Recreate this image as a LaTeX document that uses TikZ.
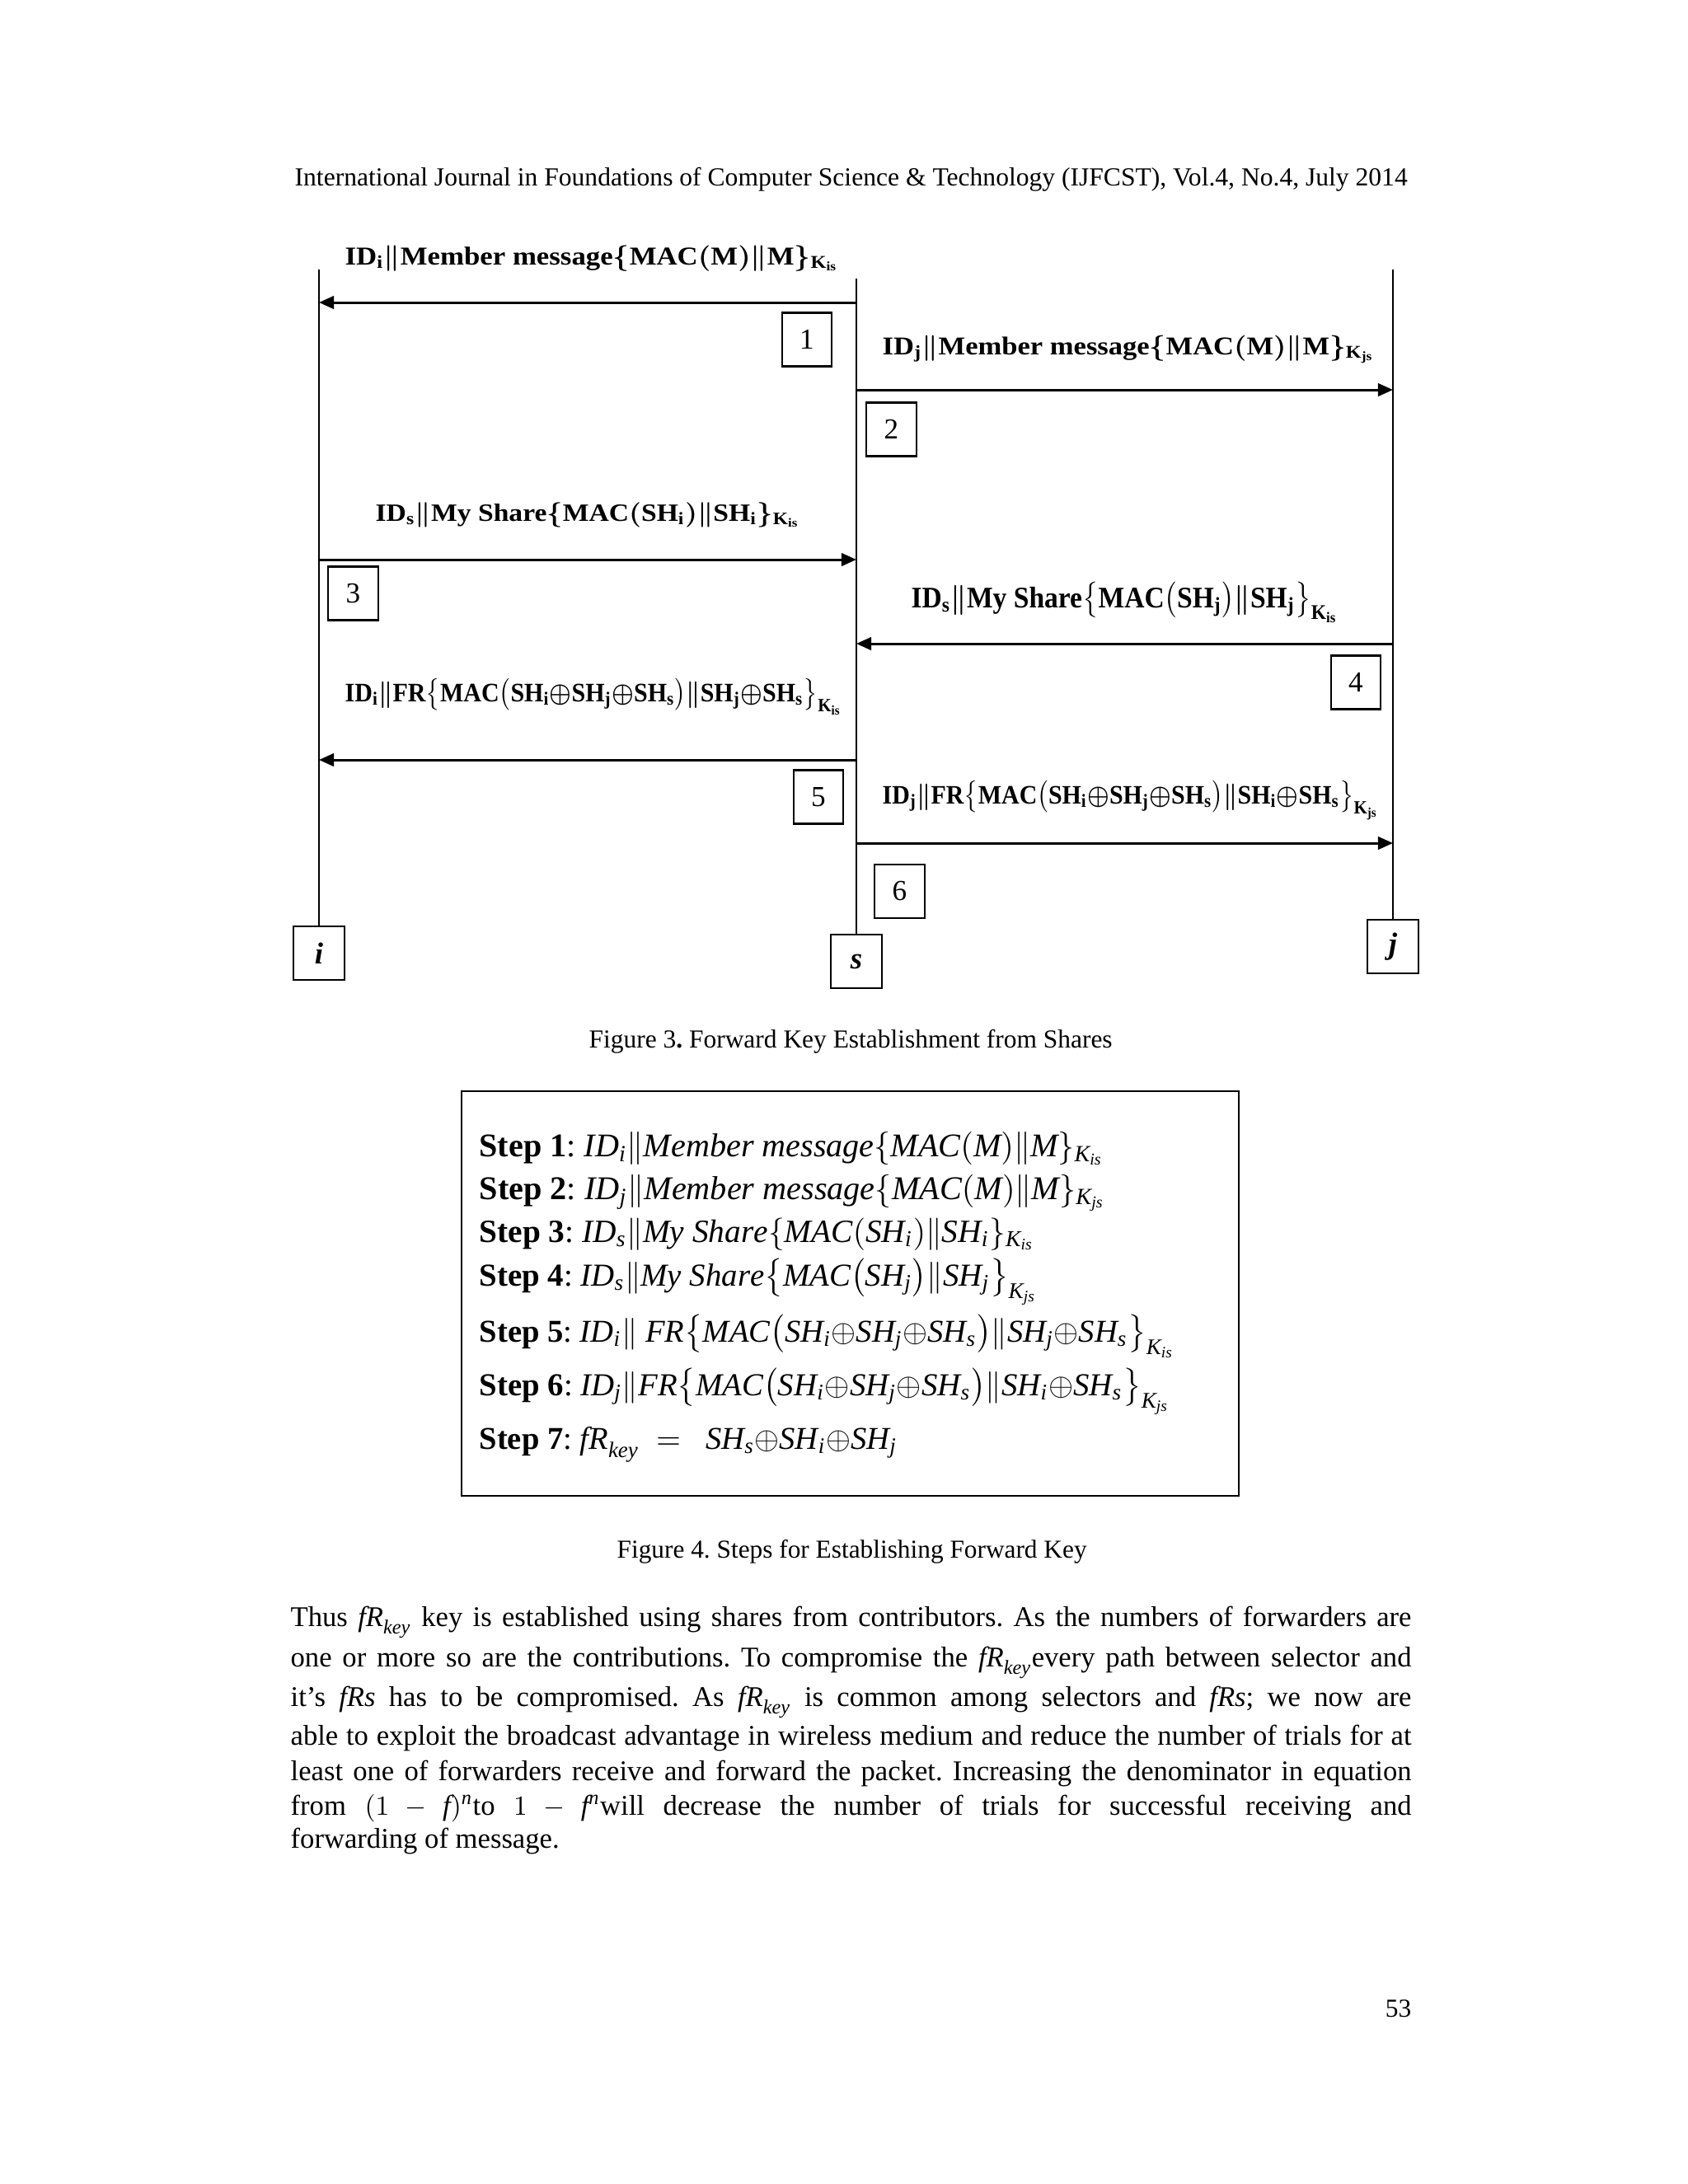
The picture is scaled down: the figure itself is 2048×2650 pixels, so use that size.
\documentclass[tikz,border=0pt]{standalone}
\usepackage{amsmath}
\usepackage{fontspec}
\setmainfont{Liberation Serif}
\usepackage{graphicx}
\usetikzlibrary{arrows.meta}
\frenchspacing
\newlength\U \setlength\U{0.29884pt}
\newcommand\bb[1]{\textbf{#1}}
\newcommand\ii[1]{\mathit{#1}}
\newcommand\xo{{\oplus}}
\newcommand\fitw[2]{\resizebox{#1\U}{!}{#2}}
\newcommand\lab[2]{\resizebox{#1\U}{!}{\scalebox{1}[0.9]{\boldmath#2}}}
\newcommand\labt[2]{\resizebox{#1\U}{!}{\scalebox{1}[1.08]{\boldmath#2}}}
\newcommand\fRk{\ensuremath{\mathit{fR}_{\mathit{key}}}}
\begin{document}
\begin{tikzpicture}[x=0.29884pt,y=-0.29884pt,
  life/.style={line width=0.45pt},
  msg/.style={line width=0.9pt,-{Triangle[length=5.4pt,width=4.6pt]}},
  numbox/.style={draw,line width=0.65pt,minimum width=18pt,minimum height=19.4pt,inner sep=0pt,font=\fontsize{10.5}{12}\selectfont},
  actor/.style={draw,line width=0.65pt,minimum width=18.5pt,minimum height=19.4pt,inner sep=0pt,font=\fontsize{11}{13}\selectfont\bfseries\itshape},
  txt/.style={anchor=base west,inner sep=0pt}]
\useasboundingbox (0,0) rectangle (2048,2650);
% header
\node[txt] (hdr) at (357,225) {\fitw{1350}{International Journal in Foundations of Computer Science \& Technology (IJFCST), Vol.4, No.4, July 2014}};
% lifelines and actors
\coordinate (Lt) at (387,327);
\coordinate (Mt) at (1039,338);
\coordinate (Rt) at (1690,327);
\node[actor] (ni) at (387,1156.5) {i};
\node[actor] (ns) at (1039,1166.5) {s};
\node[actor] (nj) at (1690,1148.5) {j};
\draw[life] (Lt) -- (ni.north);
\draw[life] (Mt) -- (ns.north);
\draw[life] (Rt) -- (nj.north);
% arrows
\coordinate (a1s) at (1039,367); \coordinate (a1e) at (387,367);
\coordinate (a2s) at (1039,473); \coordinate (a2e) at (1690,473);
\coordinate (a3s) at (387,679);  \coordinate (a3e) at (1039,679);
\coordinate (a4s) at (1690,781); \coordinate (a4e) at (1039,781);
\coordinate (a5s) at (1039,922); \coordinate (a5e) at (387,922);
\coordinate (a6s) at (1039,1023); \coordinate (a6e) at (1690,1023);
\draw[msg] (a1s) -- (a1e);
\draw[msg] (a2s) -- (a2e);
\draw[msg] (a3s) -- (a3e);
\draw[msg] (a4s) -- (a4e);
\draw[msg] (a5s) -- (a5e);
\draw[msg] (a6s) -- (a6e);
% number boxes
\node[numbox] (b1) at (979,412) {1};
\node[numbox] (b2) at (1081.5,521) {2};
\node[numbox] (b3) at (428.5,720) {3};
\node[numbox] (b4) at (1645,828) {4};
\node[numbox] (b5) at (993,967) {5};
\node[numbox] (b6) at (1091.5,1081.5) {6};
% message labels
\node[txt] (t1) at (418,321) {\lab{599}{$\bb{ID}_{\bb{i}}\|\bb{Member message}\{\bb{MAC}(\bb{M})\|\bb{M}\}_{\bb{K}_{\bb{is}}}$}};
\node[txt] (t2) at (1070,430) {\lab{597}{$\bb{ID}_{\bb{j}}\|\bb{Member message}\{\bb{MAC}(\bb{M})\|\bb{M}\}_{\bb{K}_{\bb{js}}}$}};
\node[txt] (t3) at (455,632) {\lab{515}{$\bb{ID}_{\bb{s}}\|\bb{My Share}\{\bb{MAC}(\bb{SH}_{\bb{i}})\|\bb{SH}_{\bb{i}}\}_{\bb{K}_{\bb{is}}}$}};
\node[txt] (t4) at (1105,737) {\labt{518}{$\bb{ID}_{\bb{s}}\|\bb{My Share}\bigl\{\bb{MAC}\bigl(\bb{SH}_{\bb{j}}\bigr)\|\bb{SH}_{\bb{j}}\bigr\}_{\bb{K}_{\bb{is}}}$}};
\node[txt] (t5) at (418,851) {\labt{603}{$\bb{ID}_{\bb{i}}\|\bb{FR}\bigl\{\bb{MAC}\bigl(\bb{SH}_{\bb{i}}\xo\bb{SH}_{\bb{j}}\xo\bb{SH}_{\bb{s}}\bigr)\|\bb{SH}_{\bb{j}}\xo\bb{SH}_{\bb{s}}\bigr\}_{\bb{K}_{\bb{is}}}$}};
\node[txt] (t6) at (1070,975) {\labt{602}{$\bb{ID}_{\bb{j}}\|\bb{FR}\bigl\{\bb{MAC}\bigl(\bb{SH}_{\bb{i}}\xo\bb{SH}_{\bb{j}}\xo\bb{SH}_{\bb{s}}\bigr)\|\bb{SH}_{\bb{i}}\xo\bb{SH}_{\bb{s}}\bigr\}_{\bb{K}_{\bb{js}}}$}};
% caption 3
\node[txt] (cap3) at (714,1271) {\fitw{635}{Figure 3\textbf{.} Forward Key Establishment from Shares}};
% figure 4 box
\node[draw,line width=0.7pt,minimum width=281.8pt,minimum height=146.7pt,inner sep=0pt] (f4) at (1031.5,1569.5) {};
\node[txt] (s1) at (581,1403) {\fitw{758}{\textbf{Step 1}: $\ii{ID}_{\ii{i}}\|\ii{Member\ message}\{\ii{MAC}(\ii{M})\|\ii{M}\}_{\ii{K}_{\ii{is}}}$}};
\node[txt] (s2) at (581,1455) {\fitw{760}{\textbf{Step 2}: $\ii{ID}_{\ii{j}}\|\ii{Member\ message}\{\ii{MAC}(\ii{M})\|\ii{M}\}_{\ii{K}_{\ii{js}}}$}};
\node[txt] (s3) at (581,1507) {\fitw{674}{\textbf{Step 3}: $\ii{ID}_{\ii{s}}\|\ii{My\ Share}\{\ii{MAC}(\ii{SH}_{\ii{i}})\|\ii{SH}_{\ii{i}}\}_{\ii{K}_{\ii{is}}}$}};
\node[txt] (s4) at (581,1560) {\fitw{677}{\textbf{Step 4}: $\ii{ID}_{\ii{s}}\|\ii{My\ Share}\bigl\{\ii{MAC}\bigl(\ii{SH}_{\ii{j}}\bigr)\|\ii{SH}_{\ii{j}}\bigr\}_{\ii{K}_{\ii{js}}}$}};
\node[txt] (s5) at (581,1628) {\fitw{844}{\textbf{Step 5}: $\ii{ID}_{\ii{i}}\|\ \ii{FR}\bigl\{\ii{MAC}\bigl(\ii{SH}_{\ii{i}}\xo\ii{SH}_{\ii{j}}\xo\ii{SH}_{\ii{s}}\bigr)\|\ii{SH}_{\ii{j}}\xo\ii{SH}_{\ii{s}}\bigr\}_{\ii{K}_{\ii{is}}}$}};
\node[txt] (s6) at (581,1693) {\fitw{838}{\textbf{Step 6}: $\ii{ID}_{\ii{j}}\|\ii{FR}\bigl\{\ii{MAC}\bigl(\ii{SH}_{\ii{i}}\xo\ii{SH}_{\ii{j}}\xo\ii{SH}_{\ii{s}}\bigr)\|\ii{SH}_{\ii{i}}\xo\ii{SH}_{\ii{s}}\bigr\}_{\ii{K}_{\ii{js}}}$}};
\node[txt] (s7) at (581,1758) {\fitw{507}{\textbf{Step 7}: $\ii{fR}_{\ii{key}}\ =\ \ \ii{SH}_{\ii{s}}\xo\ii{SH}_{\ii{i}}\xo\ii{SH}_{\ii{j}}$}};
% caption 4
\node[txt] (cap4) at (748,1890) {\fitw{570}{Figure 4. Steps for Establishing Forward Key}};
% paragraph
\begin{scope}[every node/.style={txt,font=\fontsize{10.35}{12}\selectfont}]
\node (p1) at (352,1973) {\makebox[406.4pt][s]{Thus \fRk{} key is established using shares from contributors. As the numbers of forwarders are}};
\node (p2) at (352,2022) {\makebox[406.4pt][s]{one or more so are the contributions. To compromise the \fRk{}every path between selector and}};
\node (p3) at (352,2070) {\makebox[406.4pt][s]{it’s $\ii{fRs}$ has to be compromised. As \fRk{} is common among selectors and $\ii{fRs}$; we now are}};
\node (p4) at (352,2117) {\makebox[406.4pt][s]{able to exploit the broadcast advantage in wireless medium and reduce the number of trials for at}};
\node (p5) at (352,2160) {\makebox[406.4pt][s]{least one of forwarders receive and forward the packet. Increasing the denominator in equation}};
\node (p6) at (352,2202) {\makebox[406.4pt][s]{from $(1-\ii{f})^{\ii{n}}$to $1-\ii{f}^{\ii{n}}$will decrease the number of trials for successful receiving and}};
\node (p7) at (352,2242) {forwarding of message.};
\end{scope}
% page number
\node[anchor=base east,inner sep=0pt,font=\fontsize{9.4}{11}\selectfont] (pg) at (1713,2447) {53};
\end{tikzpicture}
\end{document}
